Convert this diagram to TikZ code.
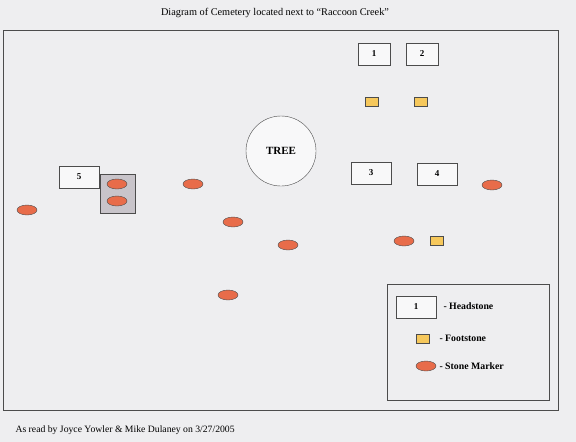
\documentclass[tikz,border=0pt]{standalone}
\usepackage{fontspec}
\setmainfont{Liberation Serif}
\usetikzlibrary{shapes.geometric}
\definecolor{paper}{RGB}{238,238,240}
\definecolor{markerfill}{RGB}{232,108,74}
\definecolor{footfill}{RGB}{246,200,92}
\definecolor{vaultfill}{RGB}{200,196,202}
\begin{document}
\begin{tikzpicture}[x=1pt, y=-1pt,
    headstone/.style={draw=black!70, fill=white!60!paper, minimum width=40pt, minimum height=22pt, inner sep=0pt, font=\fontsize{9}{10}\selectfont\bfseries},
    footstone/.style={draw=black!70, fill=footfill, minimum width=13pt, minimum height=9pt, inner sep=0pt},
    marker/.style={draw=black!70, fill=markerfill, ellipse, minimum width=20pt, minimum height=10pt, inner sep=0pt},
    key/.style={anchor=west, font=\fontsize{9.8}{11}\selectfont\bfseries}]
    \fill[paper] (0,0) rectangle (576,442);
    \useasboundingbox (0,0) rectangle (576,442);
    \draw[black!70, thick] (3,30) rectangle (558,410);
    \node (title) at (275,13) {\fontsize{10.3}{12}\selectfont Diagram of Cemetery located next to “Raccoon Creek”};
    \node[anchor=west] (credit) at (12,430) {\fontsize{9.7}{11}\selectfont As read by Joyce Yowler \& Mike Dulaney on 3/27/2005};
    % headstones
    \node[headstone, minimum width=32pt] (h1) at (374,54) {1};
    \node[headstone, minimum width=32pt] (h2) at (422,54) {2};
    \node[headstone] (h3) at (371,173) {3};
    \node[headstone] (h4) at (437,174) {4};
    \node[headstone] (h5) at (79,177) {5};
    % footstones
    \node[footstone] (f1) at (372,102) {};
    \node[footstone] (f2) at (421,102) {};
    \node[footstone] (f3) at (437,241) {};
    % tree
    \node[draw=black!70, circle, minimum size=70pt, fill=white!60!paper, font=\fontsize{11}{12}\selectfont\bfseries] (tree) at (281,151) {TREE};
    % grave with two markers
    \node[draw=black!70, fill=vaultfill, minimum width=35pt, minimum height=39pt, inner sep=0pt] (vault) at (117.5,193.5) {};
    \node[marker] (m1) at (117,184) {};
    \node[marker] (m2) at (117,201) {};
    % stone markers
    \foreach \name/\x/\y in {m3/27/210, m4/193/184, m5/233/222, m6/288/245, m7/228/295, m8/404/241, m9/492/185} {
        \node[marker] (\name) at (\x,\y) {};
    }
    % legend
    \draw[black!70, thick] (387,284) rectangle (549,400);
    \node[headstone] (keyh) at (416,307) {1};
    \node[key] at (440,306) {- Headstone};
    \node[footstone] (keyf) at (423,339) {};
    \node[key] at (436,338) {- Footstone};
    \node[marker] (keym) at (426,366) {};
    \node[key] at (436,366) {- Stone Marker};
\end{tikzpicture}
\end{document}
